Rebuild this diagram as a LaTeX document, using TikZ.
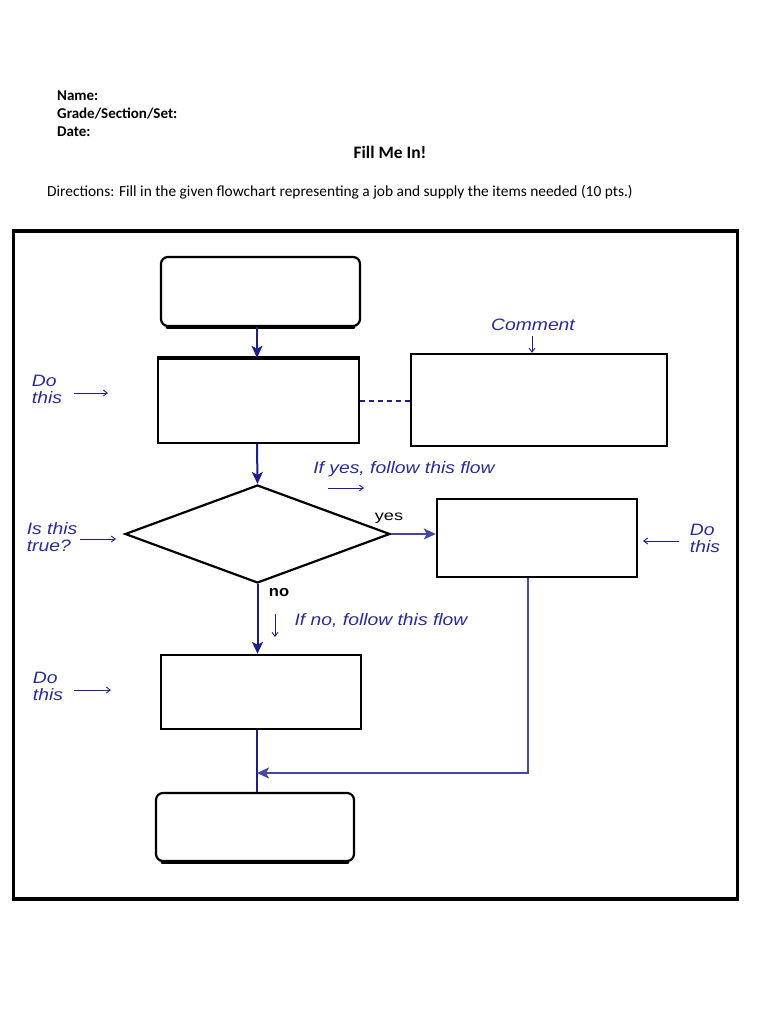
\documentclass[tikz,border=0pt]{standalone}
\usepackage{fontspec}
\setmainfont{Carlito}
\newfontfamily\arialfont{Liberation Sans}
\usetikzlibrary{shapes.geometric,arrows.meta,calc}
\definecolor{navy}{HTML}{1E1E8C}
\definecolor{lightnavy}{HTML}{4646A8}
\definecolor{navytext}{HTML}{2A2A9A}
\newcommand{\lbl}[2][1.17]{\scalebox{#1}[1]{\begin{tabular}{@{}l@{}}#2\end{tabular}}}
\tikzset{
  hdr/.style={anchor=west,inner sep=0pt,font=\fontsize{15}{17}\selectfont\bfseries},
  box/.style={draw=black,line width=2.4pt,minimum width=#1,inner sep=0pt},
  rbox/.style={draw=black,line width=2.2pt,rounded corners=7pt,inner sep=0pt},
  flow/.style={draw=navy,line width=2pt,-{Stealth[length=12pt,width=11pt,inset=3pt]}},
  plain/.style={draw=navy,line width=2pt},
  note/.style={draw=navy,line width=0.9pt,-{Straight Barb[length=4pt,width=6pt]}},
  ann/.style={inner sep=0pt,text=navytext,font=\arialfont\itshape\fontsize{16.5}{17}\selectfont},
}
\begin{document}
\begin{tikzpicture}[x=1pt,y=-1pt]
\useasboundingbox (0,0) rectangle (768,1024);
% header
\node[hdr] (name) at (57,96) {Name:};
\node[hdr] (grade) at (57,114) {Grade/Section/Set:};
\node[hdr] (date) at (57,132) {Date:};
\node[inner sep=0pt,font=\fontsize{17.5}{19}\selectfont\bfseries] (title) at (390,152) {Fill Me In!};
\node[inner sep=0pt,anchor=west,font=\fontsize{15.4}{17}\selectfont] (dir) at (47,192) {Directions: Fill in the given flowchart representing a job and supply the items needed (10 pts.)};
% frame
\draw[line width=3.5pt] (13.5,231) rectangle (737.5,899);
% boxes
\node[rbox,minimum width=199pt,minimum height=69pt] (start) at (260.5,291.5) {};
\draw[line width=2.6pt,line cap=round] ([xshift=7pt,yshift=-0.6pt]start.south west) -- ([xshift=-7pt,yshift=-0.6pt]start.south east);
\node[box=201pt,minimum height=84pt] (step1) at (258.5,401) {};
\draw[line width=2.6pt] ([yshift=0.6pt]step1.north west) -- ([yshift=0.6pt]step1.north east);
\node[box=256pt,minimum height=92pt] (comment) at (539,400) {};
\node[draw=black,line width=2.2pt,shape=diamond,inner sep=0pt,minimum width=265pt,minimum height=98pt] (dec) at (257.5,534) {};
\node[box=200pt,minimum height=78pt] (yesbox) at (537,538) {};
\node[box=200pt,minimum height=74pt] (nobox) at (261,692) {};
\node[rbox,minimum width=198pt,minimum height=68pt] (stop) at (255,827) {};
\draw[line width=2.6pt,line cap=round] ([xshift=7pt,yshift=-0.6pt]stop.south west) -- ([xshift=-7pt,yshift=-0.6pt]stop.south east);
% connectors
\draw[flow] (start.south -| 257,0) -- (step1.north -| 257,0);
\draw[flow] (step1.south -| 257,0) -- (dec.north);
\draw[navy,line width=1.4pt,dash pattern=on 5pt off 4pt] (step1.east) -- (step1.east -| comment.west);
\draw[flow,draw=lightnavy,fill=navy] (dec.east) -- (dec.east -| yesbox.west);
\draw[flow] (dec.south) -- (nobox.north -| dec.south);
\draw[plain] (nobox.south -| 257,0) -- (stop.north -| 257,0);
\coordinate (merge) at (257,773);
\draw[flow,draw=lightnavy] ([xshift=-9pt]yesbox.south) |- (merge);
% labels on flow
\node[inner sep=0pt,font=\arialfont\fontsize{14}{15}\selectfont] (yes) at (389,517) {\lbl[1.3]{yes}};
\node[inner sep=0pt,font=\arialfont\bfseries\fontsize{15}{16}\selectfont] (no) at (279,593) {\lbl[1.1]{no}};
% annotations
\node[ann] (c) at (533,327) {\lbl{Comment}};
\draw[note] (c.south -| 532,0) -- (comment.north -| 532,0);
\node[ann] (do1) at (47,392) {\lbl{Do\\this}};
\coordinate (do1a) at (74,393); \coordinate (do1b) at (108,393);
\draw[note] (do1a) -- (do1b);
\node[ann] (ifyes) at (404,470) {\lbl{If yes, follow this flow}};
\coordinate (ya) at (328,488); \coordinate (yb) at (364,488);
\draw[note] (ya) -- (yb);
\node[ann] (istrue) at (52,540) {\lbl{Is this\\true?}};
\coordinate (ta) at (80,539); \coordinate (tb) at (116,539);
\draw[note] (ta) -- (tb);
\node[ann] (do3) at (705,541) {\lbl{Do\\this}};
\coordinate (d3a) at (679,541); \coordinate (d3b) at (643,541);
\draw[note] (d3a) -- (d3b);
\node[ann] (ifno) at (381,622) {\lbl{If no, follow this flow}};
\coordinate (na) at (275,614); \coordinate (nb) at (275,637);
\draw[note] (na) -- (nb);
\node[ann] (do4) at (48,689) {\lbl{Do\\this}};
\coordinate (d4a) at (74,690); \coordinate (d4b) at (111,690);
\draw[note] (d4a) -- (d4b);
\end{tikzpicture}
\end{document}
